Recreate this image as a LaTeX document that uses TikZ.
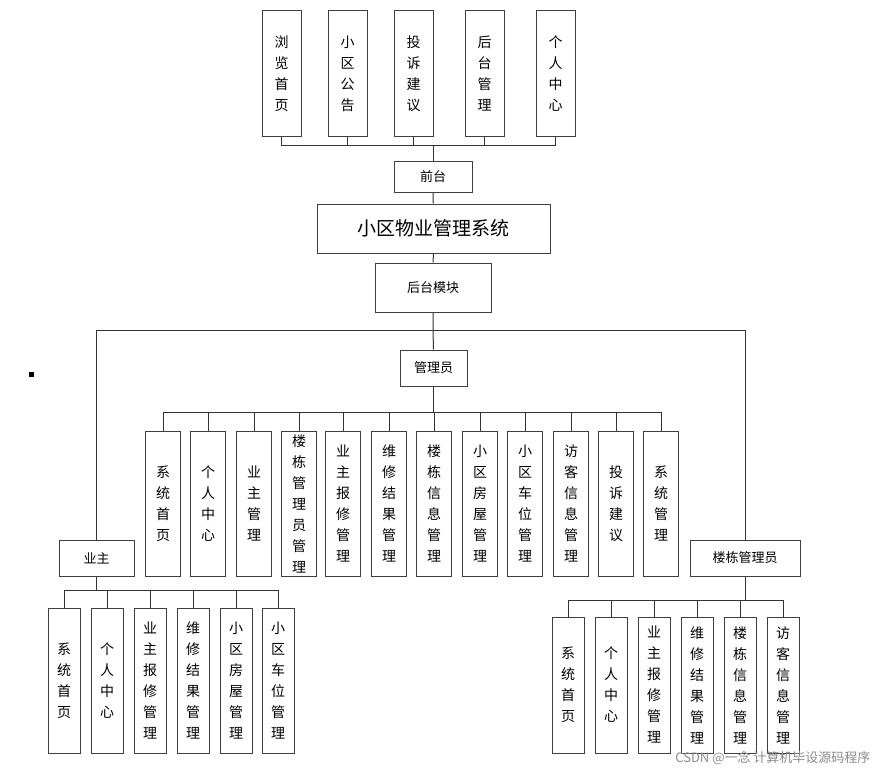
\documentclass[tikz,border=0pt]{standalone}
\usepackage{fontspec}
\setmainfont{Noto Sans CJK SC}
\begin{document}
\begin{tikzpicture}[x=1pt,y=-1pt,
  bx/.style={draw=black!75,line width=1pt,fill=white,inner sep=0pt,align=center},
  v/.style={bx,minimum width=#1,font=\fontsize{14}{21}\selectfont},
  h/.style={bx,font=\fontsize{13}{16}\selectfont},
  ln/.style={draw=black!80,line width=1pt}]
\useasboundingbox (0,0) rectangle (887,776);
% top
\foreach \n/\x/\t in {a/281.5/浏\\览\\首\\页,b/347.5/小\\区\\公\\告,c/413.5/投\\诉\\建\\议,d/484.5/后\\台\\管\\理,e/555.5/个\\人\\中\\心}
  \node[v=39pt,minimum height=125pt] (\n) at (\x,73.5) {\t};
\node[h,minimum width=78pt,minimum height=31pt] (qt) at (433,176.5) {前台};
\node[bx,minimum width=233pt,minimum height=49pt,font=\fontsize{19}{22}\selectfont] (sys) at (433.5,228.5) {小区物业管理系统};
\node[h,minimum width=116pt,minimum height=49pt] (ht) at (433,287.5) {后台模块};
\coordinate (tb) at (433,145);
\foreach \n in {a,b,c,d,e} \draw[ln] (\n.south) |- (tb);
\draw[ln] (tb) -- (qt.north);
\draw[ln] (qt) -- (sys);
\draw[ln] (sys) -- (ht);
% second level
\node[h,minimum width=67pt,minimum height=36pt] (gly) at (433.5,368) {管理员};
\node[h,minimum width=75pt,minimum height=36pt] (yz) at (96.5,558) {业主};
\node[h,minimum width=110pt,minimum height=36pt] (ld) at (745,558) {楼栋管理员};
\coordinate (mb) at (433,330);
\draw[ln] (ht.south) -- (mb) -- (gly.north);
\draw[ln] (mb) -| (yz.north);
\draw[ln] (mb) -| (ld.north);
% admin children
\coordinate (ab) at (433.5,412);
\draw[ln] (gly.south) -- (ab);
\foreach \i/\x/\t in {1/163/系\\统\\首\\页,2/208/个\\人\\中\\心,3/254/业\\主\\管\\理,4/299/楼\\栋\\管\\理\\员\\管\\理,5/343/业\\主\\报\\修\\管\\理,6/389/维\\修\\结\\果\\管\\理,7/434/楼\\栋\\信\\息\\管\\理,8/480/小\\区\\房\\屋\\管\\理,9/525/小\\区\\车\\位\\管\\理,10/571/访\\客\\信\\息\\管\\理,11/616/投\\诉\\建\\议,12/661/系\\统\\管\\理}{
  \node[v=35pt,minimum height=145pt] (m\i) at (\x,503.5) {\t};
  \draw[ln] (m\i.north) |- (ab);}
% owner children
\coordinate (ob) at (96.5,590);
\draw[ln] (yz.south) -- (ob);
\foreach \i/\x/\t in {1/64/系\\统\\首\\页,2/107/个\\人\\中\\心,3/150/业\\主\\报\\修\\管\\理,4/193/维\\修\\结\\果\\管\\理,5/236/小\\区\\房\\屋\\管\\理,6/278/小\\区\\车\\位\\管\\理}{
  \node[v=32pt,minimum height=145pt] (o\i) at (\x,680.5) {\t};
  \draw[ln] (o\i.north) |- (ob);}
% building manager children
\coordinate (lb) at (745,600);
\draw[ln] (ld.south) -- (lb);
\foreach \i/\x/\t in {1/568/系\\统\\首\\页,2/611/个\\人\\中\\心,3/654/业\\主\\报\\修\\管\\理,4/697/维\\修\\结\\果\\管\\理,5/740/楼\\栋\\信\\息\\管\\理,6/783/访\\客\\信\\息\\管\\理}{
  \node[v=32pt,minimum height=136pt] (l\i) at (\x,685) {\t};
  \draw[ln] (l\i.north) |- (lb);}
\fill (29,372) rectangle (34,377);
\node[text=black!45,font=\fontsize{13}{15}\selectfont,anchor=east] (wm) at (874,758) {CSDN @一念 计算机毕设源码程序};
\end{tikzpicture}
\end{document}
